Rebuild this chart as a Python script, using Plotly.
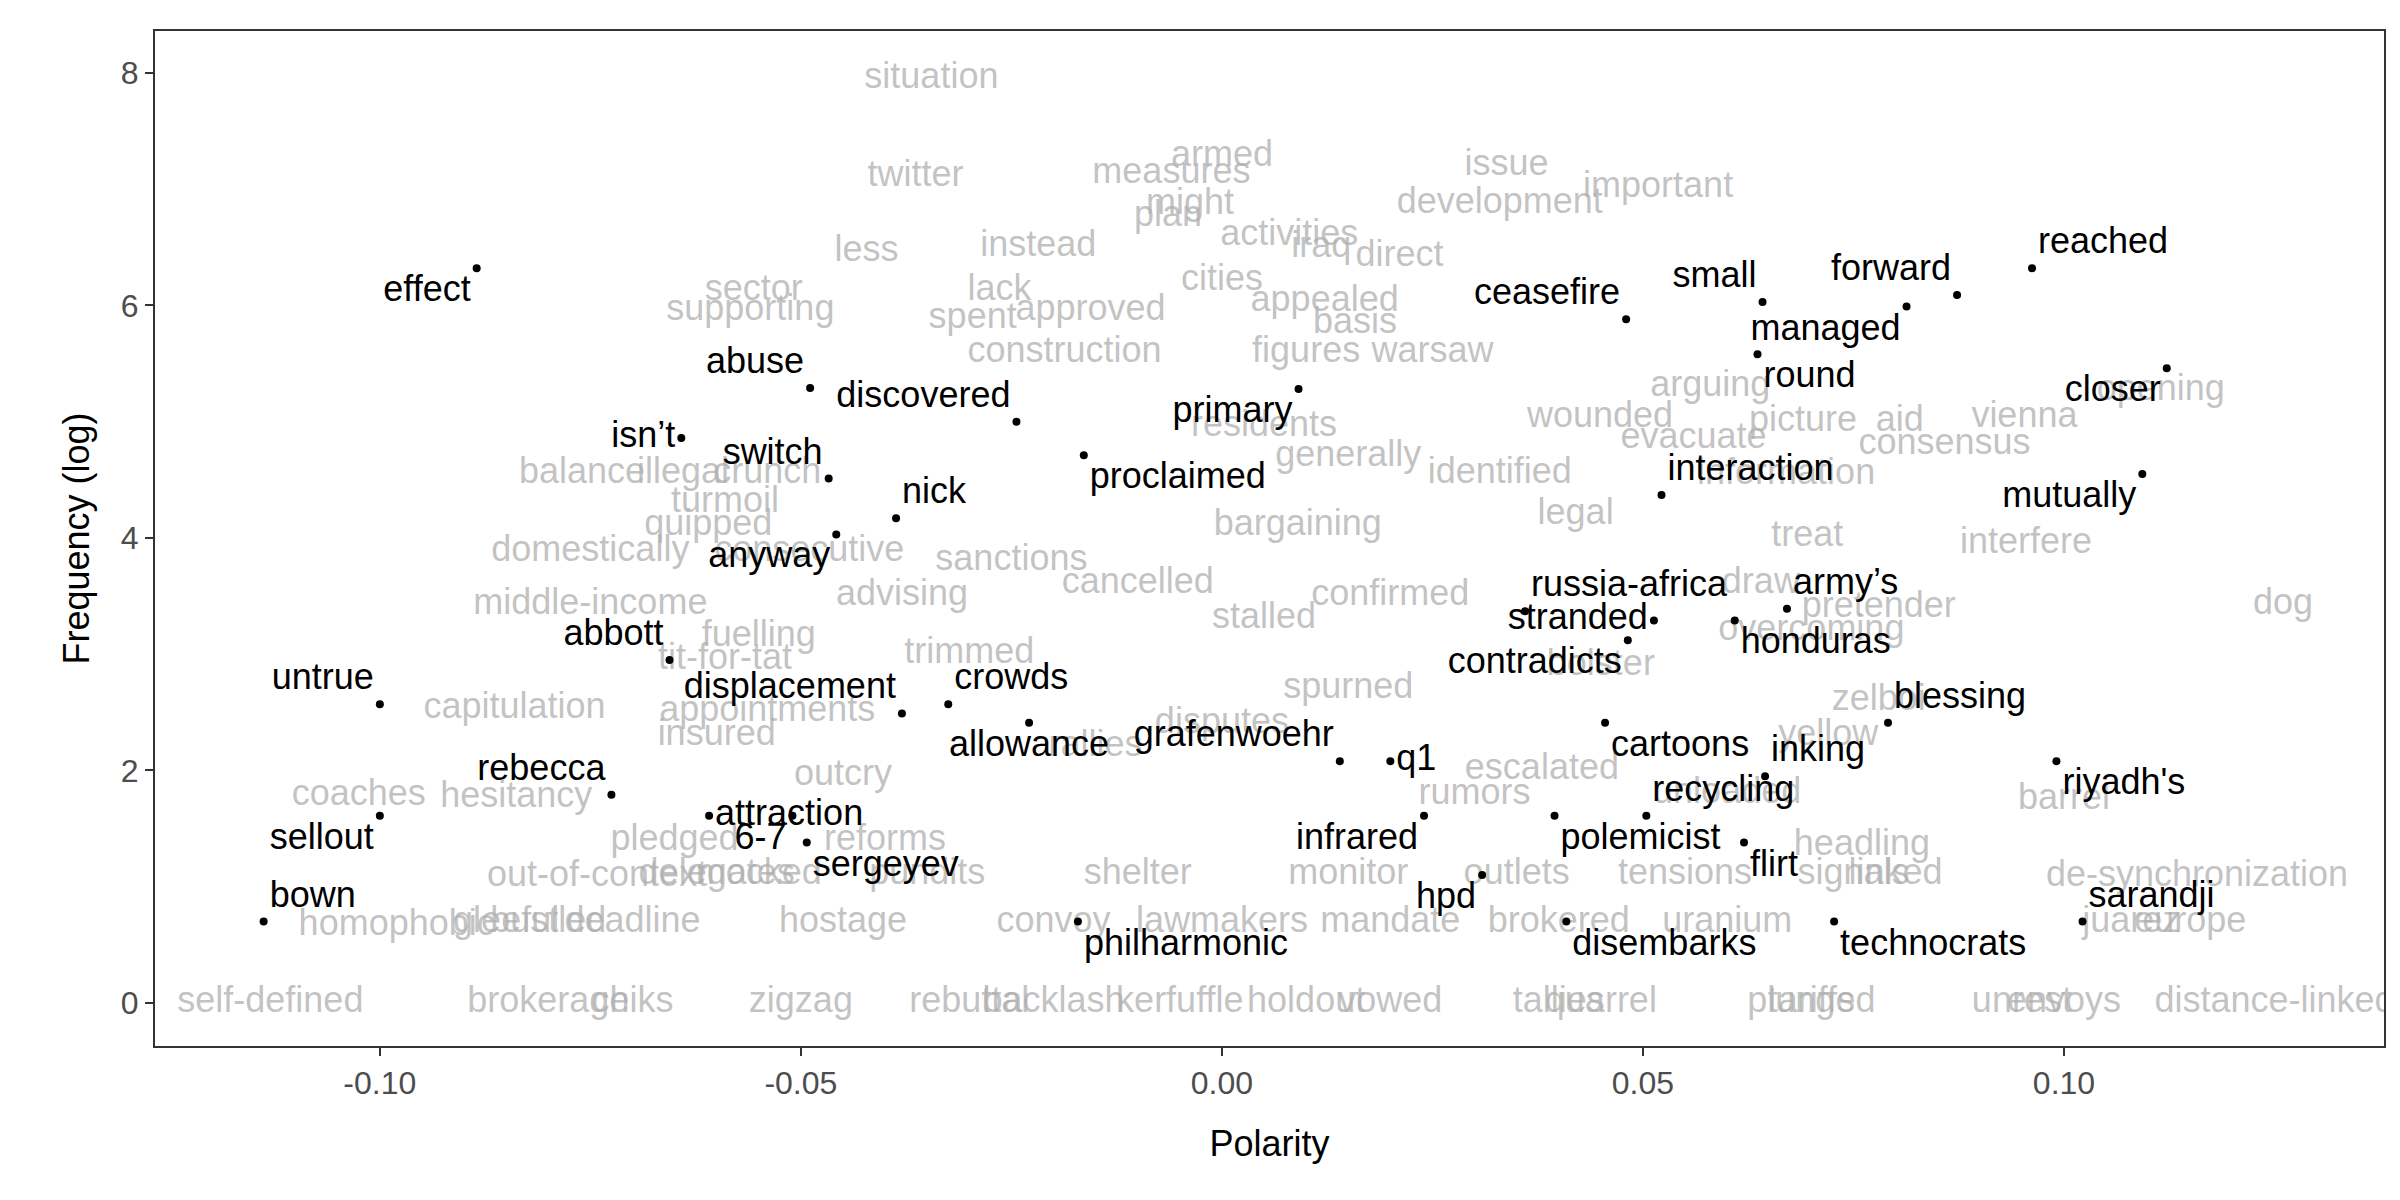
import plotly.graph_objects as go

# highlighted words (black points + labels)
words = ["effect", "reached", "forward", "small", "ceasefire", "round", "closer", "mutually",
         "interaction", "managed", "abuse", "discovered", "primary", "isn’t", "switch", "nick",
         "proclaimed", "anyway", "abbott", "russia-africa", "army’s", "stranded", "honduras",
         "contradicts", "untrue", "displacement", "crowds", "allowance", "grafenwoehr", "q1",
         "blessing", "cartoons", "inking", "riyadh's", "rebecca", "attraction", "sellout", "6-7",
         "sergeyev", "infrared", "recycling", "polemicist", "flirt", "sarandji", "bown",
         "philharmonic", "hpd", "disembarks", "technocrats"]
polarity = [-0.0885, 0.0962, 0.0873, 0.0642, 0.0480, 0.0636, 0.1122, 0.1093,
            0.0522, 0.0813, -0.0489, -0.0244, 0.0091, -0.0642, -0.0467, -0.0387,
            -0.0164, -0.0458, -0.0656, 0.0360, 0.0671, 0.0513, 0.0609,
            0.0482, -0.1000, -0.0380, -0.0325, -0.0229, 0.0140, 0.0200,
            0.0791, 0.0455, 0.0645, 0.0991, -0.0725, -0.0609, -0.1000, -0.0510,
            -0.0493, 0.0240, 0.0504, 0.0395, 0.0620, 0.1022, -0.1138,
            -0.0171, 0.0309, 0.0409, 0.0727]
freq = [6.32, 6.32, 6.09, 6.03, 5.88, 5.58, 5.46, 4.55,
        4.37, 5.99, 5.29, 5.00, 5.28, 4.86, 4.51, 4.17,
        4.71, 4.03, 2.95, 3.37, 3.39, 3.29, 3.29,
        3.12, 2.57, 2.49, 2.57, 2.41, 2.08, 2.08,
        2.41, 2.41, 1.95, 2.08, 1.79, 1.61, 1.61, 1.61,
        1.38, 1.61, 1.61, 1.61, 1.38, 0.70, 0.70,
        0.70, 1.10, 0.70, 0.70]
label_pos = ["bottom left", "top right", "top left", "top left", "top left", "bottom right", "bottom left", "bottom left",
             "top right", "bottom left", "top left", "top left", "bottom left", "middle left", "top left", "top right",
             "bottom right", "bottom left", "top left", "top right", "top right", "middle left", "bottom right",
             "bottom left", "top left", "top left", "top right", "bottom center", "top left", "middle right",
             "top right", "bottom right", "top right", "bottom right", "top left", "middle right", "bottom left", "bottom left",
             "bottom right", "bottom left", "top right", "bottom right", "bottom right", "top right", "top right",
             "bottom right", "bottom left", "bottom right", "bottom right"]

# background words (grey)
bg_words = ["situation", "twitter", "measures", "armed", "issue", "important", "might", "development",
            "plan", "activities", "less", "instead", "iraq", "direct", "sector", "lack", "cities",
            "appealed", "supporting", "approved", "basis", "spent", "construction", "arguing",
            "opening", "picture", "vienna", "wounded", "aid", "consensus", "information", "treat",
            "interfere", "domestically", "middle-income", "dog", "capitulation", "coaches",
            "hesitancy", "out-of-context", "de-synchronization", "homophobic", "self-defined",
            "distance-linked", "balance", "illegal", "crunch", "turmoil", "quipped", "consecutive",
            "figures", "warsaw", "residents", "identified", "legal", "generally", "bargaining",
            "evacuate", "overcoming", "tit-for-tat", "fuelling", "insured", "appointments",
            "zelboi", "yellow", "headling", "linked", "barrel", "escalated", "confirmed",
            "pretender", "draw", "advising", "sanctions", "cancelled", "stalled", "unloaded",
            "deadline", "hostage", "convoy", "lawmakers", "mandate", "brokered", "uranium",
            "delegates", "pundits", "shelter", "monitor", "outlets", "tensions", "signals",
            "pledged", "reforms", "juarez", "europe", "bustled", "mocked", "gleeful", "chiks",
            "rebuttal", "kerfuffle", "vowed", "quarrel", "tariffs", "unrest", "brokerage",
            "zigzag", "backlash", "holdout", "tallies", "plunged", "envoys", "outcry", "rallies",
            "spurned", "bolster", "trimmed", "disputes", "rumors", "detour", "nudged", "sided"]
bg_polarity = [-0.0345, -0.0364, -0.0060, 0.0000, 0.0338, 0.0518, -0.0038, 0.0330,
               -0.0064, 0.0080, -0.0422, -0.0218, 0.0118, 0.0211, -0.0556, -0.0264, 0.0000,
               0.0122, -0.0560, -0.0156, 0.0158, -0.0296, -0.0187, 0.0580,
               0.1115, 0.0690, 0.0953, 0.0449, 0.0805, 0.0858, 0.0670, 0.0695,
               0.0955, -0.0750, -0.0750, 0.1260, -0.0840, -0.1025,
               -0.0838, -0.0742, 0.1158, -0.0980, -0.1130,
               0.1250, -0.0760, -0.0640, -0.0540, -0.0590, -0.0610, -0.0490,
               0.0100, 0.0250, 0.0050, 0.0330, 0.0420, 0.0150, 0.0090,
               0.0560, 0.0700, -0.0590, -0.0550, -0.0600, -0.0540,
               0.0780, 0.0720, 0.0760, 0.0800, 0.1000, 0.0380, 0.0200,
               0.0780, 0.0640, -0.0380, -0.0250, -0.0100, 0.0050, 0.0600,
               -0.0700, -0.0450, -0.0200, 0.0000, 0.0200, 0.0400, 0.0600,
               -0.0600, -0.0350, -0.0100, 0.0150, 0.0350, 0.0550, 0.0750,
               -0.0650, -0.0400, 0.1080, 0.1150, -0.0800, -0.0550, -0.0850, -0.0700,
               -0.0300, -0.0050, 0.0200, 0.0450, 0.0700, 0.0950,
               -0.0800, -0.0500, -0.0200, 0.0100, 0.0400, 0.0700, 0.1000,
               -0.0450, -0.0150, 0.0150, 0.0450, -0.0300, 0.0000, 0.0300]
bg_freq = [7.95, 7.10, 7.13, 7.28, 7.20, 7.01, 6.86, 6.87,
           6.76, 6.60, 6.46, 6.50, 6.49, 6.42, 6.12, 6.12, 6.21,
           6.03, 5.95, 5.95, 5.84, 5.88, 5.59, 5.30,
           5.26, 5.00, 5.03, 5.03, 5.00, 4.80, 4.54, 4.01,
           3.95, 3.88, 3.42, 3.42, 2.53, 1.78,
           1.76, 1.08, 1.08, 0.66, 0.00,
           0.00, 4.55, 4.55, 4.55, 4.30, 4.10, 3.88,
           5.59, 5.59, 4.95, 4.55, 4.20, 4.70, 4.10,
           4.85, 3.20, 2.95, 3.15, 2.30, 2.50,
           2.60, 2.30, 1.35, 1.10, 1.75, 2.00, 3.50,
           3.40, 3.60, 3.50, 3.80, 3.60, 3.30, 1.80,
           0.69, 0.69, 0.69, 0.69, 0.69, 0.69, 0.69,
           1.10, 1.10, 1.10, 1.10, 1.10, 1.10, 1.10,
           1.39, 1.39, 0.69, 0.69, 0.69, 1.10, 0.69, 0.00,
           0.00, 0.00, 0.00, 0.00, 0.00, 0.00,
           0.00, 0.00, 0.00, 0.00, 0.00, 0.00, 0.00,
           1.95, 2.20, 2.70, 2.90, 3.00, 2.40, 1.79]

x_ticks = [-0.10, -0.05, 0.0, 0.05, 0.10]
x_tick_text = ["-0.10", "-0.05", "0.00", "0.05", "0.10"]
y_ticks = [0, 2, 4, 6, 8]

fig = go.Figure()
fig.add_trace(go.Scatter(
    x=bg_polarity, y=bg_freq, text=bg_words, mode="text",
    textfont=dict(family="Liberation Sans", size=36, color="rgba(175,175,175,0.75)"),
    hoverinfo="skip", showlegend=False))
fig.add_trace(go.Scatter(
    x=polarity, y=freq, text=words, mode="markers+text", textposition=label_pos,
    marker=dict(color="black", size=8),
    textfont=dict(family="Liberation Sans", size=36, color="black"),
    showlegend=False))

axis_common = dict(showgrid=False, zeroline=False, showline=True, linecolor="#333333",
                   linewidth=2, mirror=True, ticks="outside", ticklen=8, tickcolor="#333333",
                   tickwidth=2, tickfont=dict(family="Liberation Sans", size=32, color="#4d4d4d"))
fig.update_xaxes(range=[-0.1267, 0.138], tickvals=x_ticks, ticktext=x_tick_text,
                 title=dict(text="Polarity", standoff=30,
                 font=dict(family="Liberation Sans", size=36, color="black")), **axis_common)
fig.update_yaxes(range=[-0.37, 8.36], tickvals=y_ticks,
                 title=dict(text="Frequency (log)", standoff=20,
                 font=dict(family="Liberation Sans", size=36, color="black")), **axis_common)
fig.update_layout(width=2400, height=1200, plot_bgcolor="white", paper_bgcolor="white",
                  margin=dict(l=147, r=24, t=23, b=162))
fig.write_html("out.html")
